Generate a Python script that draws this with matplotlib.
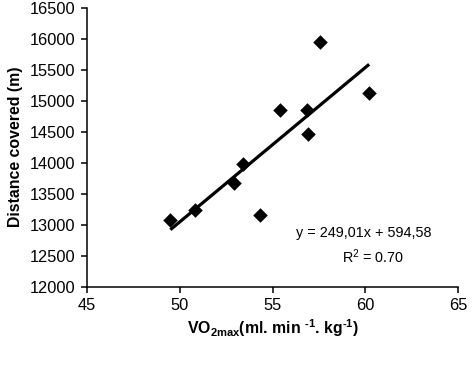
import matplotlib
matplotlib.use("Agg")
import matplotlib.pyplot as plt
import numpy as np

plt.rcParams['font.family'] = ['Liberation Sans', 'DejaVu Sans']
plt.rcParams['mathtext.fontset'] = 'custom'
plt.rcParams['mathtext.rm'] = 'Liberation Sans'
plt.rcParams['mathtext.bf'] = 'Liberation Sans:bold'

# VO2max vs distance covered
vo2max = [49.5, 50.8, 52.9, 53.4, 54.3, 55.4, 56.85, 56.9, 57.55, 60.2]
distance = [13085, 13240, 13675, 13975, 13155, 14850, 14850, 14465, 15945, 15130]

# trend line given in the chart
slope = 249.01
intercept = 594.58
eq_text = "y = 249,01x + 594,58"
r2_text = "R$^2$ = 0.70"

fig = plt.figure(figsize=(4.74, 3.75), dpi=100)
ax = fig.add_axes([0.183, 0.235, 0.784, 0.745])

ax.scatter(vo2max, distance, marker='D', s=55, color='black', zorder=3, linewidths=0)
xs = np.array([min(vo2max), max(vo2max)])
ax.plot(xs, slope * xs + intercept, color='black', lw=2.3, solid_capstyle='butt')

ax.set_xlim(45, 65)
ax.set_ylim(12000, 16500)
ax.set_xticks(np.arange(45, 66, 5))
ax.set_yticks(np.arange(12000, 16501, 500))

for s in ['top', 'right']:
    ax.spines[s].set_visible(False)
for s in ['left', 'bottom']:
    ax.spines[s].set_linewidth(1.1)
ax.tick_params(direction='out', length=4, width=1.1, labelsize=11.8, pad=4)

ax.set_ylabel("Distance covered (m)", fontsize=11.4, fontweight='bold', labelpad=5)
ax.set_xlabel("VO$_{\\mathbf{2max}}$(ml. min $^{\\mathbf{\u2010}\\mathbf{1}}$. kg$^{\\mathbf{\u20101}}$)",
              fontsize=11.4, fontweight='bold', labelpad=3)

ax.text(59.9, 12860, eq_text, ha='center', va='center', fontsize=10.4)
ax.text(60.4, 12480, r2_text, ha='center', va='center', fontsize=10.4)

fig.savefig("out.png", dpi=100)
